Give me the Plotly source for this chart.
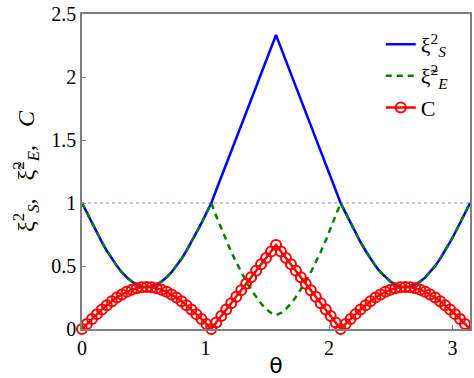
import plotly.graph_objects as go

theta = [0.000, 0.040, 0.081, 0.121, 0.161, 0.201, 0.242, 0.282, 0.322, 0.362, 0.403, 0.443, 0.483, 0.524,
         0.564, 0.604, 0.644, 0.685, 0.725, 0.765, 0.806, 0.846, 0.886, 0.926, 0.967, 1.007, 1.047,
         1.087, 1.128, 1.168, 1.208, 1.249, 1.289, 1.329, 1.369, 1.410, 1.450, 1.490, 1.531, 1.571,
         1.611, 1.651, 1.692, 1.732, 1.772, 1.812, 1.853, 1.893, 1.933, 1.974, 2.014, 2.054, 2.094,
         2.135, 2.175, 2.215, 2.255, 2.296, 2.336, 2.376, 2.417, 2.457, 2.497, 2.537, 2.578, 2.618,
         2.658, 2.698, 2.739, 2.779, 2.819, 2.860, 2.900, 2.940, 2.980, 3.021, 3.061, 3.101, 3.142]

xi_S = [1.000, 0.920, 0.840, 0.764, 0.690, 0.621, 0.558, 0.501, 0.451, 0.410, 0.377, 0.353, 0.338, 0.333,
        0.338, 0.353, 0.377, 0.410, 0.451, 0.501, 0.558, 0.621, 0.690, 0.764, 0.840, 0.920, 1.000,
        1.103, 1.205, 1.308, 1.410, 1.513, 1.615, 1.718, 1.821, 1.923, 2.026, 2.128, 2.231, 2.333,
        2.231, 2.128, 2.026, 1.923, 1.821, 1.718, 1.615, 1.513, 1.410, 1.308, 1.205, 1.103, 1.000,
        0.920, 0.840, 0.764, 0.690, 0.621, 0.558, 0.501, 0.451, 0.410, 0.377, 0.353, 0.338, 0.333,
        0.338, 0.353, 0.377, 0.410, 0.451, 0.501, 0.558, 0.621, 0.690, 0.764, 0.840, 0.920, 1.000]

xi_E = [1.000, 0.920, 0.840, 0.764, 0.690, 0.621, 0.558, 0.501, 0.451, 0.410, 0.377, 0.353, 0.338, 0.333,
        0.338, 0.353, 0.377, 0.410, 0.451, 0.501, 0.558, 0.621, 0.690, 0.764, 0.840, 0.920, 1.000,
        0.896, 0.797, 0.703, 0.613, 0.529, 0.451, 0.379, 0.312, 0.253, 0.202, 0.159, 0.127, 0.110,
        0.127, 0.159, 0.202, 0.253, 0.312, 0.379, 0.451, 0.529, 0.613, 0.703, 0.797, 0.896, 1.000,
        0.920, 0.840, 0.764, 0.690, 0.621, 0.558, 0.501, 0.451, 0.410, 0.377, 0.353, 0.338, 0.333,
        0.338, 0.353, 0.377, 0.410, 0.451, 0.501, 0.558, 0.621, 0.690, 0.764, 0.840, 0.920, 1.000]

conc = [0.000, 0.040, 0.080, 0.118, 0.155, 0.189, 0.221, 0.250, 0.274, 0.295, 0.312, 0.324, 0.331, 0.333,
        0.331, 0.324, 0.312, 0.295, 0.274, 0.250, 0.221, 0.189, 0.155, 0.118, 0.080, 0.040, 0.000,
        0.051, 0.103, 0.154, 0.205, 0.256, 0.308, 0.359, 0.410, 0.462, 0.513, 0.564, 0.615, 0.667,
        0.615, 0.564, 0.513, 0.462, 0.410, 0.359, 0.308, 0.256, 0.205, 0.154, 0.103, 0.051, 0.000,
        0.040, 0.080, 0.118, 0.155, 0.189, 0.221, 0.250, 0.274, 0.295, 0.312, 0.324, 0.331, 0.333,
        0.331, 0.324, 0.312, 0.295, 0.274, 0.250, 0.221, 0.189, 0.155, 0.118, 0.080, 0.040, 0.000]

ref_x = [0.0, 3.1416]
ref_y = [1.0, 1.0]

x_ticks = [0, 1, 2, 3]
y_ticks = [0, 0.5, 1, 1.5, 2, 2.5]
y_tick_text = ["0", "0.5", "1", "1.5", "2", "2.5"]

serif = "Liberation Serif, Times New Roman, serif"

fig = go.Figure()
fig.add_trace(go.Scatter(x=ref_x, y=ref_y, mode="lines", showlegend=False,
                         line=dict(color="#8c8cff", width=1.2, dash="dot"), hoverinfo="skip"))
fig.add_trace(go.Scatter(x=theta, y=xi_S, mode="lines", name="ξ<sup>2</sup><sub><i>S</i></sub>",
                         line=dict(color="#0000ff", width=2.5)))
fig.add_trace(go.Scatter(x=theta, y=xi_E, mode="lines", name="ξ̃<sup>2</sup><sub><i>E</i></sub>",
                         line=dict(color="#007f00", width=2.5, dash="6px,5px")))
fig.add_trace(go.Scatter(x=theta, y=conc, mode="lines+markers", name="C",
                         line=dict(color="#ff0000", width=2.5),
                         marker=dict(symbol="circle-open", size=10, color="#ff0000",
                                     line=dict(width=2, color="#ff0000")),
                         cliponaxis=False))

axis_common = dict(showline=True, linecolor="#808080", linewidth=1.5, mirror=True,
                   ticks="inside", ticklen=4, tickcolor="#808080", showgrid=False, zeroline=False,
                   tickfont=dict(family=serif, size=20, color="black"))

fig.update_layout(
    width=474, height=378,
    margin=dict(l=82, r=2, t=14, b=49),
    paper_bgcolor="white", plot_bgcolor="white",
    xaxis=dict(range=[0, 3.1416], tickvals=x_ticks, ticktext=[str(v) for v in x_ticks],
               title=dict(text="θ", font=dict(family="DejaVu Sans, sans-serif", size=22, color="black"),
                          standoff=2),
               **axis_common),
    yaxis=dict(range=[0, 2.5], tickvals=y_ticks, ticktext=y_tick_text,
               title=dict(text="ξ<sup>2</sup><sub><i>S</i></sub>,   ξ̃<sup>2</sup><sub><i>E</i></sub>,   <i>C</i>",
                          font=dict(family=serif, size=24, color="black"), standoff=10),
               **axis_common),
    legend=dict(x=0.77, y=0.97, xanchor="left", yanchor="top", bgcolor="rgba(255,255,255,0)",
                font=dict(family=serif, size=22, color="black"), tracegroupgap=0),
    showlegend=True,
)

fig.write_html("out.html", config={"displayModeBar": False},
               post_script="document.body.style.margin='0';")
